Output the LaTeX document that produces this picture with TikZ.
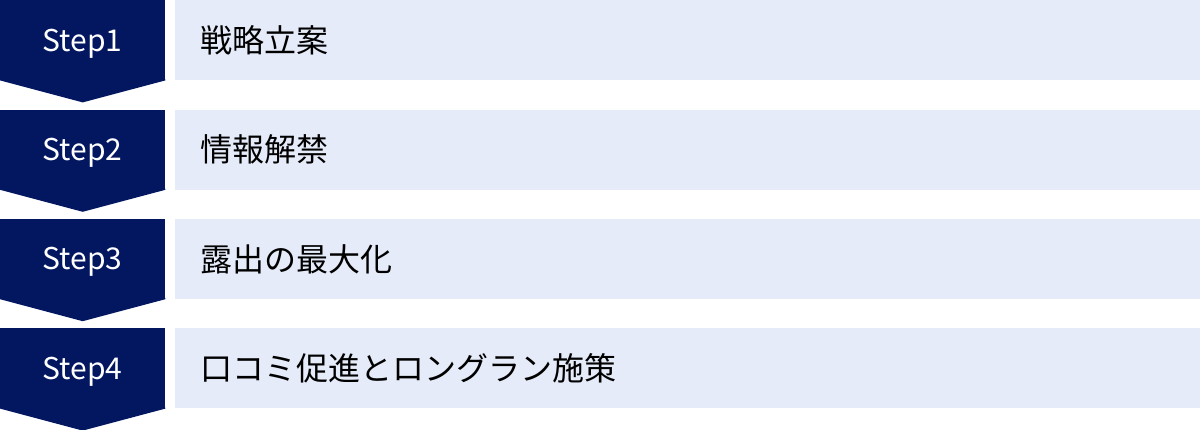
\documentclass[tikz,border=0pt]{standalone}
\usepackage{fontspec}
\setmainfont{Noto Sans CJK JP}
\usetikzlibrary{positioning,calc}
\definecolor{navy}{HTML}{031761}
\definecolor{paleblue}{HTML}{E5EBF8}

\begin{document}
\begin{tikzpicture}[x=1pt,y=1pt,node distance=29pt and 9pt,
   stepbox/.style={fill=navy, text=white, minimum width=165pt, minimum height=80pt, inner sep=0pt, text height=22pt, text depth=0pt, font=\fontsize{30}{36}\selectfont},
   titlebox/.style={fill=paleblue, minimum height=80pt, text width=974pt, inner xsep=26pt, inner ysep=0pt, align=left, font=\fontsize{32}{36}\selectfont}]
   \useasboundingbox (0,0) rectangle (1200,429);
   \node[stepbox, anchor=north west] (s1) at (0,429) {Step1};
   \node[stepbox] (s2) [below=of s1] {Step2};
   \node[stepbox] (s3) [below=of s2] {Step3};
   \node[stepbox] (s4) [below=of s3] {Step4};
   \node[titlebox] (t1) [right=of s1] {戦略立案};
   \node[titlebox] (t2) [right=of s2] {情報解禁};
   \node[titlebox] (t3) [right=of s3] {露出の最大化};
   \node[titlebox] (t4) [right=of s4] {口コミ促進とロングラン施策};
   % pointed bottoms
   \foreach \i in {1,...,4}
      \fill[navy] ($(s\i.south west)+(0,1)$) -- ($(s\i.south east)+(0,1)$) -- (s\i.south east) -- ($(s\i.south)+(0,-22)$) -- (s\i.south west) -- cycle;
\end{tikzpicture}
\end{document}
